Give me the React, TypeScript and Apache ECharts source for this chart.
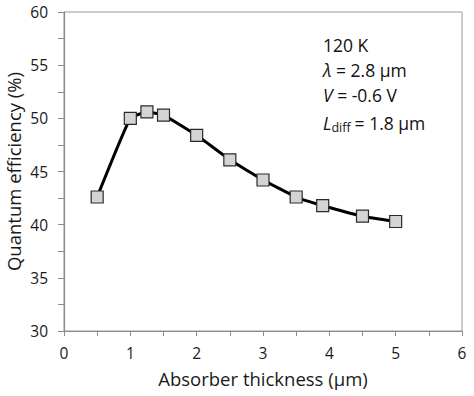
import React, { useEffect, useRef } from "react";
import * as echarts from "echarts";

const thickness = [0.5, 1, 1.25, 1.5, 2, 2.5, 3, 3.5, 3.9, 4.5, 5];
const efficiency = [42.6, 50.0, 50.6, 50.3, 48.4, 46.1, 44.2, 42.6, 41.8, 40.8, 40.3];
const xTickLabels = ["0", "1", "2", "3", "4", "5", "6"];
const yTickLabels = ["30", "35", "40", "45", "50", "55", "60"];

const FONT = "'Open Sans', 'Noto Sans', sans-serif";

export default function App() {
  const ref = useRef<HTMLDivElement>(null);
  useEffect(() => {
    document.body.style.margin = "0";
    const chart = echarts.init(ref.current!, null, { renderer: "svg" });
    const axisColor = "#8a8a8a";
    chart.setOption({
      animation: false,
      backgroundColor: "#ffffff",
      grid: {
        left: 64,
        right: 12,
        top: 12,
        bottom: 65,
        show: true,
        borderColor: "#9a9a9a",
        borderWidth: 1,
        containLabel: false,
        outerBoundsMode: "none",
      },
      xAxis: {
        type: "value",
        min: 0,
        max: 6,
        interval: 0.5,
        name: "Absorber thickness (µm)",
        nameLocation: "middle",
        nameGap: 38,
        nameMoveOverlap: false,
        nameTextStyle: { fontFamily: FONT, fontSize: 18.5, color: "#1a1a1a" },
        axisLine: { show: true, lineStyle: { color: axisColor, width: 1.2 } },
        axisTick: { show: true, inside: false, length: 5, lineStyle: { color: axisColor } },
        axisLabel: {
          fontFamily: FONT,
          fontSize: 15.5,
          color: "#1a1a1a",
          margin: 14,
          formatter: (v: number) => {
            const s = String(Math.round(v));
            return Math.abs(v - Math.round(v)) < 1e-6 && xTickLabels.includes(s) ? s : "";
          },
        },
        splitLine: { show: false },
      },
      yAxis: {
        type: "value",
        min: 30,
        max: 60,
        interval: 2.5,
        name: "Quantum efficiency (%)",
        nameLocation: "middle",
        nameGap: 41,
        nameMoveOverlap: false,
        nameTextStyle: { fontFamily: FONT, fontSize: 18.5, color: "#1a1a1a" },
        axisLine: { show: true, lineStyle: { color: axisColor, width: 1.2 } },
        axisTick: { show: true, inside: false, length: 6, lineStyle: { color: axisColor } },
        axisLabel: {
          fontFamily: FONT,
          fontSize: 15.5,
          color: "#1a1a1a",
          margin: 16,
          formatter: (v: number) => {
            const s = String(Math.round(v));
            return Math.abs(v - Math.round(v)) < 1e-6 && yTickLabels.includes(s) ? s : "";
          },
        },
        splitLine: { show: false },
      },
      series: [
        {
          type: "line",
          data: thickness.map((x, i) => [x, efficiency[i]]),
          smooth: 0.12,
          symbol: "rect",
          symbolSize: 12,
          lineStyle: { color: "#000000", width: 3 },
          itemStyle: { color: "#d4d4d4", borderColor: "#2a2a2a", borderWidth: 1.2 },
          z: 3,
        },
      ],
      graphic: [
        {
          type: "text",
          left: 323,
          top: 36,
          style: {
            text: "120 K",
            fontFamily: FONT,
            fontSize: 17.5,
            fill: "#111",
          },
        },
        {
          type: "text",
          left: 323,
          top: 61,
          style: {
            text: "{i|λ} = 2.8 µm",
            fontFamily: FONT,
            fontSize: 17.5,
            fill: "#111",
            rich: { i: { fontStyle: "italic", fontFamily: FONT, fontSize: 17.5, fill: "#111" } },
          },
        },
        {
          type: "text",
          left: 323,
          top: 86,
          style: {
            text: "{i|V} = -0.6 V",
            fontFamily: FONT,
            fontSize: 17.5,
            fill: "#111",
            rich: { i: { fontStyle: "italic", fontFamily: FONT, fontSize: 17.5, fill: "#111" } },
          },
        },
        {
          type: "text",
          left: 323,
          top: 111,
          style: {
            text: "{i|L}{s|diff}{n|= 1.8 µm}",
            fontFamily: FONT,
            fontSize: 17.5,
            fill: "#111",
            rich: {
              i: { fontStyle: "italic", fontFamily: FONT, fontSize: 17.5, fill: "#111", lineHeight: 22 },
              s: { fontFamily: FONT, fontSize: 12.5, fill: "#111", padding: [10, 4, 0, 0], lineHeight: 14 },
              n: { fontFamily: FONT, fontSize: 17.5, fill: "#111", lineHeight: 22 },
            },
          },
        },
      ],
    });
    return () => chart.dispose();
  }, []);
  return (
    <div
      ref={ref}
      style={{ position: "fixed", left: 0, top: 0, width: 474, height: 396 }}
    />
  );
}
